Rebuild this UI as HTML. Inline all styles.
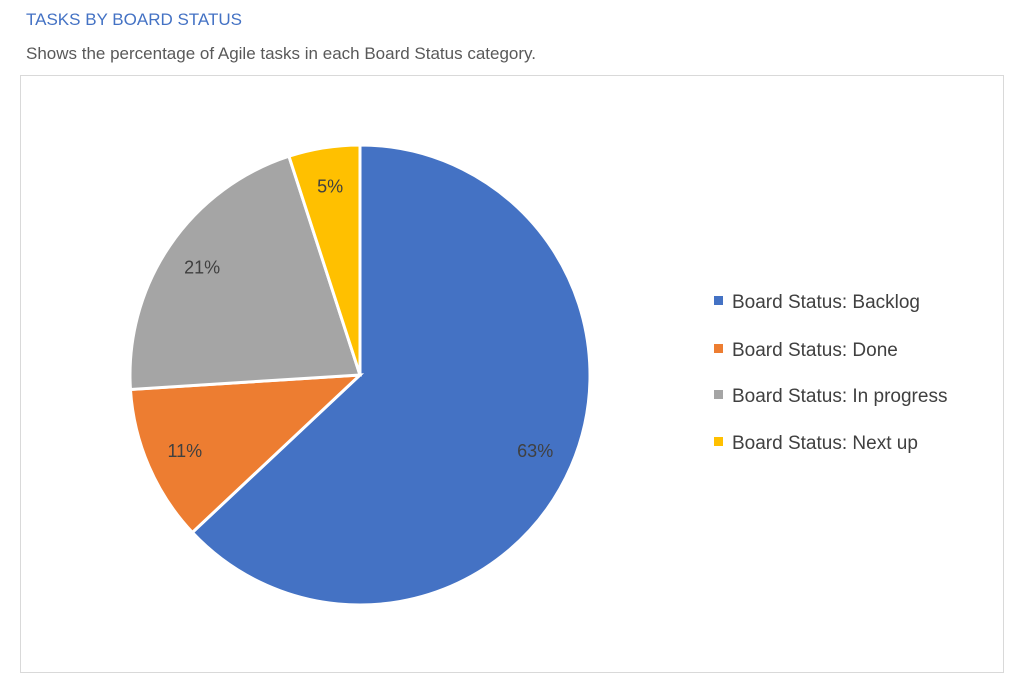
<!DOCTYPE html>
<html><head><meta charset="utf-8"><style>
body{margin:0;background:#fff;width:1024px;height:687px;overflow:hidden;font-family:"Liberation Sans",sans-serif;}
#title{position:absolute;left:26px;top:10px;font-size:17px;color:#4472c4;}
#sub{position:absolute;left:26px;top:44px;font-size:17px;color:#595959;}
#frame{position:absolute;left:20px;top:75px;width:982px;height:596px;border:1px solid #d9d9d9;}
svg{position:absolute;left:0;top:0;}
</style></head><body>
<div id="title">TASKS BY BOARD STATUS</div>
<div id="sub">Shows the percentage of Agile tasks in each Board Status category.</div>
<div id="frame"></div>
<svg id="chart" width="1024" height="687"></svg>
<script>
const categories=["Board Status: Backlog","Board Status: Done","Board Status: In progress","Board Status: Next up"];
const values=[63,11,21,5];
const labels=["63%","11%","21%","5%"];
const colors=["#4472c4","#ed7d31","#a5a5a5","#ffc000"];
const svg=document.getElementById('chart');
const NS="http://www.w3.org/2000/svg";
const cx=360,cy=375,R=230;
const total=values.reduce((a,b)=>a+b,0);
function pt(frac,r){const a=frac*2*Math.PI;return [cx+r*Math.sin(a),cy-r*Math.cos(a)];}
let acc=0;
values.forEach((v,i)=>{
  const s=acc/total,e=(acc+v)/total;acc+=v;
  const p0=pt(s,R),p1=pt(e,R);
  const large=(e-s)>0.5?1:0;
  const path=document.createElementNS(NS,'path');
  path.setAttribute('d',`M${cx},${cy}L${p0[0]},${p0[1]}A${R},${R} 0 ${large} 1 ${p1[0]},${p1[1]}Z`);
  path.setAttribute('fill',colors[i]);path.setAttribute('stroke','#fff');path.setAttribute('stroke-width','3');
  
  
  svg.appendChild(path);
  const lp=pt((s+e)/2,R*0.83);
  const t=document.createElementNS(NS,'text');
  t.setAttribute('x',lp[0]);t.setAttribute('y',lp[1]+6);t.setAttribute('text-anchor','middle');
  t.setAttribute('font-size','18');t.setAttribute('fill','#404040');t.setAttribute('font-family','Liberation Sans, sans-serif');
  t.textContent=labels[i];
  
  
  svg.appendChild(t);
});
const legY=[301,349,395,442];
categories.forEach((c,i)=>{
  const g=document.createElementNS(NS,'g');
  
  
  const r=document.createElementNS(NS,'rect');
  r.setAttribute('x',714);r.setAttribute('y',legY[i]-5);r.setAttribute('width',9);r.setAttribute('height',9);r.setAttribute('fill',colors[i]);
  g.appendChild(r);
  const t=document.createElementNS(NS,'text');
  t.setAttribute('x',732);t.setAttribute('y',legY[i]+7);t.setAttribute('font-size','19');t.setAttribute('fill','#404040');
  t.setAttribute('font-family','Liberation Sans, sans-serif');
  t.textContent=c;g.appendChild(t);
  svg.appendChild(g);
});
</script>
</body></html>
